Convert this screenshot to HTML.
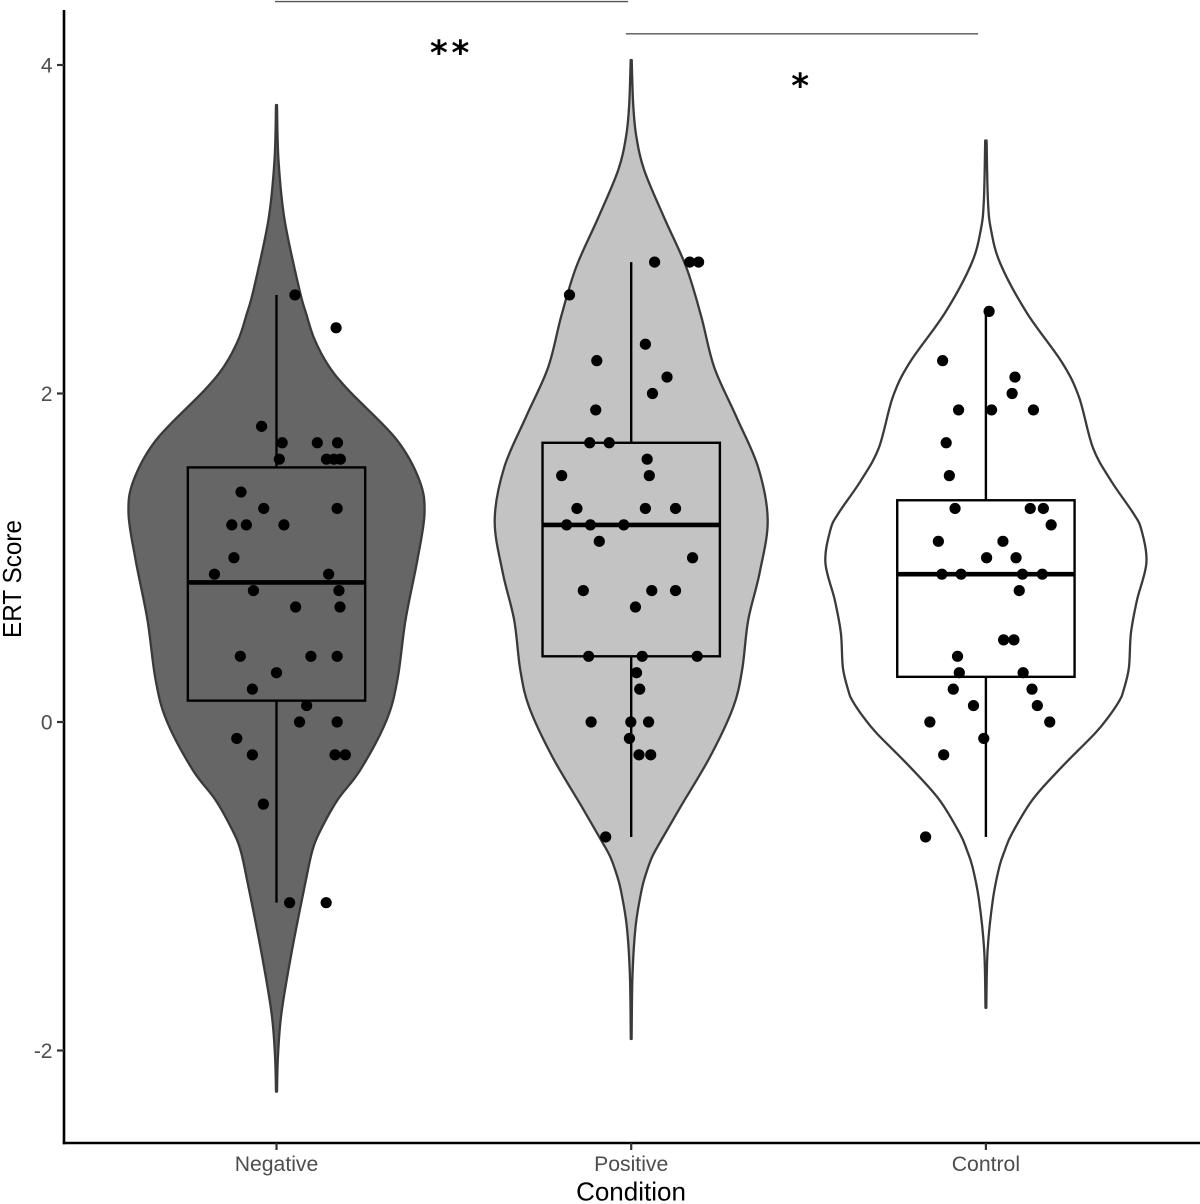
<!DOCTYPE html>
<html lang="en">
<head>
<meta charset="utf-8">
<title>ERT Score by Condition</title>
<style>
html,body{margin:0;padding:0;background:#fff;width:1200px;height:1204px;overflow:hidden}
svg{display:block;font-family:"Liberation Sans",Arial,sans-serif}
</style>
</head>
<body>
<svg id="chart" xmlns="http://www.w3.org/2000/svg" width="1200" height="1204" viewBox="0 0 1200 1204"></svg>
<script>
const categories = ['Negative', 'Positive', 'Control'];
const yTicks = [-2, 0, 2, 4];
const violinFills = ['#666666', '#c3c3c3', '#ffffff'];

const negLevels = [3.756,3.42,3.06,2.63,2.48,2.33,2.17,2.02,1.72,1.47,1.27,0.99,0.62,0.26,0.01,-0.29,-0.475,-0.66,-0.78,-0.96,-1.39,-1.77,-2.03,-2.25];
const negDensity = [0.005,0.02,0.08,0.23,0.30,0.38,0.52,0.72,1.20,1.43,1.48,1.41,1.29,1.21,1.10,0.84,0.61,0.44,0.36,0.295,0.155,0.05,0.015,0.005];

const posLevels = [4.03,3.76,3.57,3.36,3.07,2.77,2.47,2.16,1.86,1.55,1.23,0.91,0.62,0.32,0.09,-0.21,-0.52,-0.72,-0.82,-0.92,-1.02,-1.24,-1.54,-1.93];
const posDensity = [0.005,0.02,0.05,0.13,0.33,0.55,0.70,0.83,1.05,1.27,1.365,1.285,1.17,1.11,1.02,0.79,0.49,0.30,0.21,0.15,0.105,0.045,0.013,0.004];

const ctlLevels = [3.54,3.18,3.00,2.79,2.49,2.19,1.98,1.67,1.47,1.27,1.17,0.97,0.74,0.54,0.33,0.19,0.13,0.03,-0.07,-0.27,-0.47,-0.68,-0.78,-0.88,-1.08,-1.39,-1.74];
const ctlDensity = [0.007,0.02,0.05,0.145,0.41,0.76,0.93,1.07,1.25,1.475,1.555,1.605,1.51,1.45,1.43,1.375,1.335,1.225,1.09,0.765,0.47,0.26,0.19,0.135,0.07,0.017,0.004];

const boxLower = [-1.1, -0.7, -0.7];
const boxQ1 = [0.13, 0.4, 0.275];
const boxMedian = [0.85, 1.2, 0.9];
const boxQ3 = [1.55, 1.7, 1.35];
const boxUpper = [2.6, 2.8, 2.5];

const negScores = [2.6,2.4,1.8,1.7,1.7,1.7,1.6,1.6,1.6,1.6,1.4,1.3,1.3,1.2,1.2,1.2,1.0,0.9,0.9,0.8,0.8,0.7,0.7,0.4,0.4,0.4,0.3,0.2,0.1,0,0,-0.1,-0.2,-0.2,-0.2,-0.5,-1.1,-1.1];
const negJitter = [0.052,0.168,-0.042,0.016,0.115,0.172,0.008,0.141,0.162,0.180,-0.100,-0.036,0.171,-0.126,-0.085,0.021,-0.120,-0.175,0.147,-0.065,0.176,0.054,0.179,-0.102,0.097,0.171,0,-0.068,0.085,0.065,0.171,-0.112,-0.068,0.165,0.194,-0.037,0.037,0.140];

const posScores = [2.8,2.8,2.8,2.6,2.3,2.2,2.1,2.0,1.9,1.7,1.7,1.6,1.5,1.5,1.3,1.3,1.3,1.2,1.2,1.2,1.1,1.0,0.8,0.8,0.8,0.7,0.4,0.4,0.4,0.3,0.2,0,0,0,-0.1,-0.2,-0.2,-0.7];
const posJitter = [0.066,0.165,0.190,-0.174,0.040,-0.097,0.101,0.060,-0.100,-0.117,-0.062,0.045,-0.196,0.051,-0.153,0.040,0.125,-0.182,-0.115,-0.021,-0.090,0.173,-0.135,0.058,0.125,0.012,-0.120,0.031,0.186,0.015,0.024,-0.113,-0.001,0.049,-0.005,0.022,0.055,-0.072];

const ctlScores = [2.5,2.2,2.1,2.0,1.9,1.9,1.9,1.7,1.5,1.3,1.3,1.3,1.2,1.1,1.1,1.0,1.0,0.9,0.9,0.9,0.9,0.8,0.5,0.5,0.4,0.3,0.3,0.2,0.2,0.1,0.1,0,0,-0.1,-0.2,-0.7];
const ctlJitter = [0.009,-0.122,0.082,0.074,-0.077,0.016,0.134,-0.112,-0.103,-0.087,0.125,0.162,0.184,-0.134,0.048,0.002,0.085,-0.124,-0.070,0.103,0.159,0.094,0.050,0.079,-0.080,-0.075,0.105,-0.092,0.130,-0.035,0.145,-0.158,0.180,-0.006,-0.119,-0.170];

const sigFrom = [-0.004, 0.985];
const sigTo = [0.991, 1.978];
const sigLevels = [4.386, 4.19];
const sigLabels = ['**', '*'];
const sigLabelLevels = [4.137, 3.936];

const allLevels = [negLevels, posLevels, ctlLevels];
const allDensity = [negDensity, posDensity, ctlDensity];
const allScores = [negScores, posScores, ctlScores];
const allJitter = [negJitter, posJitter, ctlJitter];

const NS = 'http://www.w3.org/2000/svg';
const svg = document.getElementById('chart');
const x = i => 276.5 + i * 354.7;
const xBand = 354.7;
const y = v => 722 - v * 164.25;
const w = d => d * 100;
const axisLeft = 64, axisBottom = 1143, axisTop = 10, axisRight = 1200;

function make(tag, attrs) {
  const el = document.createElementNS(NS, tag);
  for (const k in attrs) el.setAttribute(k, attrs[k]);
  svg.appendChild(el);
  return el;
}
function smooth(pts) {
  let d = 'M' + pts[0][0].toFixed(2) + ' ' + pts[0][1].toFixed(2);
  for (let i = 0; i < pts.length - 1; i++) {
    const p0 = pts[Math.max(0, i - 1)], p1 = pts[i], p2 = pts[i + 1], p3 = pts[Math.min(pts.length - 1, i + 2)];
    const c1x = p1[0] + (p2[0] - p0[0]) / 6, c1y = p1[1] + (p2[1] - p0[1]) / 6;
    const c2x = p2[0] - (p3[0] - p1[0]) / 6, c2y = p2[1] - (p3[1] - p1[1]) / 6;
    d += 'C' + c1x.toFixed(2) + ' ' + c1y.toFixed(2) + ' ' + c2x.toFixed(2) + ' ' + c2y.toFixed(2) + ' ' + p2[0].toFixed(2) + ' ' + p2[1].toFixed(2);
  }
  return d;
}

categories.forEach((cat, c) => {
  const key = cat.toLowerCase();
  const right = allLevels[c].map((lv, i) => [x(c) + w(allDensity[c][i]), y(lv)]);
  const left = allLevels[c].map((lv, i) => [x(c) - w(allDensity[c][i]), y(lv)]).reverse();
  const rightPath = smooth(right);
  const leftPath = smooth(left).replace(/^M[^C]*/, 'L' + left[0][0].toFixed(2) + ' ' + left[0][1].toFixed(2));
  const violin = make('path', {d: rightPath + leftPath + 'Z', fill: violinFills[c], stroke: '#3a3a3a', 'stroke-width': 2.3, 'stroke-linejoin': 'round'});
  
  

  const whiskerUp = make('line', {x1: x(c), x2: x(c), y1: y(boxQ3[c]), y2: y(boxUpper[c]), stroke: '#000', 'stroke-width': 2.4});
  
  
  const whiskerDown = make('line', {x1: x(c), x2: x(c), y1: y(boxQ1[c]), y2: y(boxLower[c]), stroke: '#000', 'stroke-width': 2.4});
  
  

  const box = make('rect', {x: x(c) - 0.25 * xBand, width: 0.5 * xBand, y: y(boxQ3[c]), height: y(boxQ1[c]) - y(boxQ3[c]), fill: 'none', stroke: '#000', 'stroke-width': 2.4});
  
  
  const median = make('line', {x1: x(c) - 0.25 * xBand, x2: x(c) + 0.25 * xBand, y1: y(boxMedian[c]), y2: y(boxMedian[c]), stroke: '#000', 'stroke-width': 4.6});
  
  

  allScores[c].forEach((s, i) => {
    const dot = make('circle', {cx: x(c) + allJitter[c][i] * xBand, cy: y(s), r: 5.6, fill: '#000'});
    
    
  });
});

const yAxis = make('line', {x1: axisLeft, x2: axisLeft, y1: axisTop, y2: axisBottom + 1.3, stroke: '#000', 'stroke-width': 2.6});


const xAxis = make('line', {x1: axisLeft - 1.3, x2: axisRight, y1: axisBottom, y2: axisBottom, stroke: '#000', 'stroke-width': 2.6});



yTicks.forEach(t => {
  const tick = make('line', {x1: axisLeft - 7, x2: axisLeft, y1: y(t), y2: y(t), stroke: '#333', 'stroke-width': 2.2});
  
  
  const label = make('text', {x: 52.5, y: y(t) + 7.5, 'text-anchor': 'end', 'font-size': 21, fill: '#4d4d4d'});
  label.textContent = String(t);
  
  
});

categories.forEach((cat, c) => {
  const tick = make('line', {x1: x(c), x2: x(c), y1: axisBottom, y2: axisBottom + 7, stroke: '#333', 'stroke-width': 2.2});
  
  
  const label = make('text', {x: x(c), y: 1171, 'text-anchor': 'middle', 'font-size': 21.2, fill: '#4d4d4d'});
  label.textContent = cat;
  
  
});

const xTitle = make('text', {x: 631, y: 1200.5, 'text-anchor': 'middle', 'font-size': 26, fill: '#000'});
xTitle.textContent = 'Condition';


const yTitle = make('text', {transform: 'translate(21,579) rotate(-90) scale(1,1.08)', 'text-anchor': 'middle', 'font-size': 24.3, fill: '#000'});
yTitle.textContent = 'ERT Score';



sigLabels.forEach((lab, i) => {
  const line = make('line', {x1: x(sigFrom[i]), x2: x(sigTo[i]), y1: y(sigLevels[i]), y2: y(sigLevels[i]), stroke: '#555', 'stroke-width': 1.4});
  
  
  const mid = (x(sigFrom[i]) + x(sigTo[i])) / 2;
  const star = make('text', {x: mid, y: y(sigLabelLevels[i]) + 22, 'text-anchor': 'middle', 'font-size': 34, 'font-weight': 'bold', 'letter-spacing': 3.7, 'font-family': '"DejaVu Sans",sans-serif', fill: '#000'});
  star.textContent = lab;
  
  
});
</script>
</body>
</html>
